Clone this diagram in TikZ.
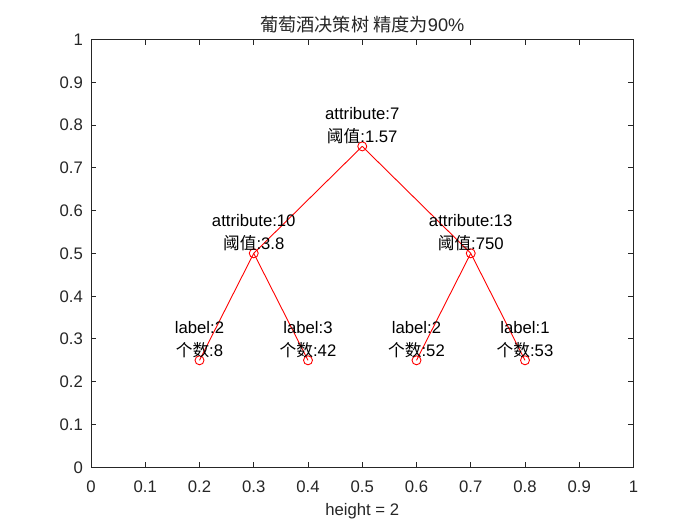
\documentclass[tikz,border=0pt]{standalone}
\usepackage{fontspec}
\setmainfont{Liberation Sans}
\newfontfamily\cjk{Noto Sans CJK SC}
\definecolor{axgray}{rgb}{0.15,0.15,0.15}
\definecolor{mred}{rgb}{1,0,0}
\tikzset{
  txt/.style={inner sep=0pt, font=\fontsize{16.7}{20}\selectfont},
  ticklab/.style={txt, text=axgray},
  nodelab/.style={txt, text=black, anchor=base},
  mk/.style={circle, draw=mred, line width=0.9pt, minimum size=9pt, inner sep=0pt},
  branch/.style={draw=mred, line width=0.9pt},
  axline/.style={draw=axgray, line width=0.9pt},
}
\begin{document}
\begin{tikzpicture}[x=1pt,y=-1pt]
\useasboundingbox (0,0) rectangle (700,525);
\fill[white] (0,0) rectangle (700,525);
% axes box
\def\xa{91}\def\xb{633.5}\def\ya{467.25}\def\yb{39.4}
\draw[axline] (\xa,\ya) rectangle (\xb,\yb);
% x ticks
\foreach \t/\l in {0/0,0.1/0.1,0.2/0.2,0.3/0.3,0.4/0.4,0.5/0.5,0.6/0.6,0.7/0.7,0.8/0.8,0.9/0.9,1/1}{
  \pgfmathsetmacro{\px}{91+\t*542.5}
  \draw[axline] (\px,\ya) -- ++(0,-5.4);
  \draw[axline] (\px,\yb) -- ++(0,5.4);
  \node[ticklab, anchor=base] (xt\l) at (\px,492) {\l};
}
% y ticks
\foreach \t/\l in {0/0,0.1/0.1,0.2/0.2,0.3/0.3,0.4/0.4,0.5/0.5,0.6/0.6,0.7/0.7,0.8/0.8,0.9/0.9,1/1}{
  \pgfmathsetmacro{\py}{467.25-\t*427.85}
  \draw[axline] (\xa,\py) -- ++(5.4,0);
  \draw[axline] (\xb,\py) -- ++(-5.4,0);
  \node[ticklab, anchor=base east] (yt\l) at (83,\py+6) {\l};
}
% title and xlabel
\node[ticklab, anchor=base, font=\fontsize{18.2}{22}\selectfont] (title) at (362.25,31.5) {{\cjk 葡萄酒决策树 精度为}90\%};
\node[ticklab, anchor=base] (xlab) at (362.25,515) {height = 2};
% tree nodes
\node[mk] (n1) at (362.25,146.36) {};
\node[mk] (n2) at (253.75,253.3) {};
\node[mk] (n3) at (470.75,253.3) {};
\node[mk] (n4) at (199.5,360.29) {};
\node[mk] (n5) at (308,360.29) {};
\node[mk] (n6) at (416.5,360.29) {};
\node[mk] (n7) at (525,360.29) {};
\draw[branch] (n1.center) -- (n2.center);
\draw[branch] (n1.center) -- (n3.center);
\draw[branch] (n2.center) -- (n4.center);
\draw[branch] (n2.center) -- (n5.center);
\draw[branch] (n3.center) -- (n6.center);
\draw[branch] (n3.center) -- (n7.center);
% labels
\node[nodelab] (l1a) at ([yshift=27pt]n1.center) {attribute:7};
\node[nodelab] (l1b) at ([yshift=4pt]n1.center) {{\cjk 阈值}:1.57};
\node[nodelab] (l2a) at ([yshift=27pt]n2.center) {attribute:10};
\node[nodelab] (l2b) at ([yshift=4pt]n2.center) {{\cjk 阈值}:3.8};
\node[nodelab] (l3a) at ([yshift=27pt]n3.center) {attribute:13};
\node[nodelab] (l3b) at ([yshift=4pt]n3.center) {{\cjk 阈值}:750};
\node[nodelab] (l4a) at ([yshift=27pt]n4.center) {label:2};
\node[nodelab] (l4b) at ([yshift=4pt]n4.center) {{\cjk 个数}:8};
\node[nodelab] (l5a) at ([yshift=27pt]n5.center) {label:3};
\node[nodelab] (l5b) at ([yshift=4pt]n5.center) {{\cjk 个数}:42};
\node[nodelab] (l6a) at ([yshift=27pt]n6.center) {label:2};
\node[nodelab] (l6b) at ([yshift=4pt]n6.center) {{\cjk 个数}:52};
\node[nodelab] (l7a) at ([yshift=27pt]n7.center) {label:1};
\node[nodelab] (l7b) at ([yshift=4pt]n7.center) {{\cjk 个数}:53};
\end{tikzpicture}
\end{document}
